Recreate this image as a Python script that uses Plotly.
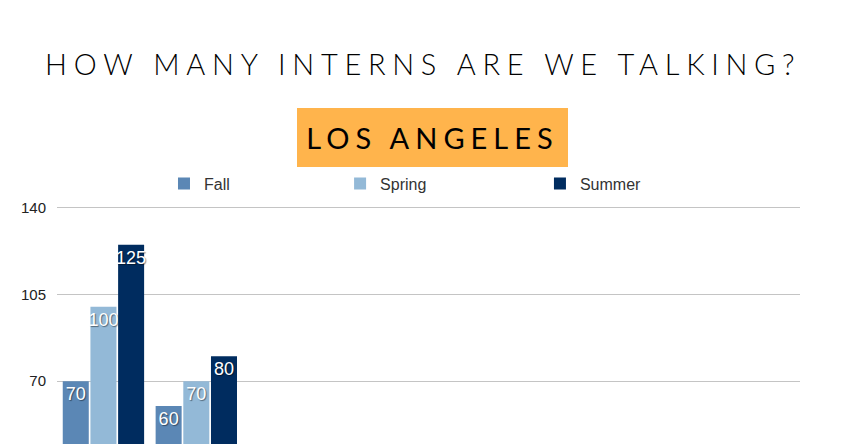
import plotly.graph_objects as go

categories = ["Group A", "Group B"]
series_names = ["Fall", "Spring", "Summer"]
fall = [70, 60]
spring = [100, 70]
summer = [125, 80]
series_values = [fall, spring, summer]
colors = ["#5b87b5", "#93b9d7", "#002c5f"]
ytick_vals = [70, 105, 140]

title_text = "HOW MANY INTERNS ARE WE TALKING?"
subtitle_text = "LOS ANGELES"

fig = go.Figure()
legend_ids = ["legend", "legend2", "legend3"]
for name, vals, col, lg in zip(series_names, series_values, colors, legend_ids):
    fig.add_trace(go.Bar(
        name=name, x=categories, y=vals, marker=dict(color=col, line=dict(width=0)),
        text=[str(v) for v in vals], textposition="inside", insidetextanchor="end",
        constraintext="none", textangle=0,
        textfont=dict(family="Liberation Sans, Arial, sans-serif", size=18, color="white",
                      shadow="1px 1px 1px rgba(0,0,0,0.45)"),
        legend=lg, hoverinfo="skip",
    ))

legend_common = dict(orientation="h", yanchor="middle", xanchor="left", bgcolor="rgba(0,0,0,0)",
                     font=dict(family="Liberation Sans, Arial, sans-serif", size=16, color="#333333"))
fig.update_layout(
    width=845, height=444,
    margin=dict(l=49, r=53, t=196.5, b=8, pad=0, autoexpand=False),
    paper_bgcolor="white", plot_bgcolor="white",
    barmode="group", bargap=0.106, bargroupgap=0.06,
    title=dict(text='<span style="letter-spacing:6.7px">' + title_text + '</span>',
               x=0.4914, xanchor="center", xref="container",
               y=1 - 57 / 444, yanchor="middle", yref="container",
               font=dict(family="Lato, sans-serif", size=29, color="#000000", weight=300)),
    legend=dict(x=0.144, y=1.0898, **legend_common),
    legend2=dict(x=0.381, y=1.0898, **legend_common),
    legend3=dict(x=0.650, y=1.0898, **legend_common),
    xaxis=dict(type="category", range=[-0.5, 7.5], showticklabels=False, showgrid=False,
               zeroline=False, showline=False, ticks=""),
    yaxis=dict(range=[44.66, 141], tickvals=ytick_vals, showgrid=True, gridcolor="#c4c4c4",
               gridwidth=1, zeroline=False, showline=False, ticks="", ticklabelstandoff=10,
               tickfont=dict(family="Liberation Sans, Arial, sans-serif", size=15, color="#222222")),
    annotations=[dict(
        text='<span style="letter-spacing:6px">' + subtitle_text + '</span>',
        xref="paper", yref="paper", x=0.5054, y=1.2839, xanchor="center", yanchor="middle",
        showarrow=False, bgcolor="#ffb44c", borderpad=0, borderwidth=0,
        width=271, height=59, valign="middle", align="center",
        font=dict(family="Lato, sans-serif", size=29, color="#000000", weight=400),
    )],
    showlegend=True,
)

fig.write_html("out.html")
